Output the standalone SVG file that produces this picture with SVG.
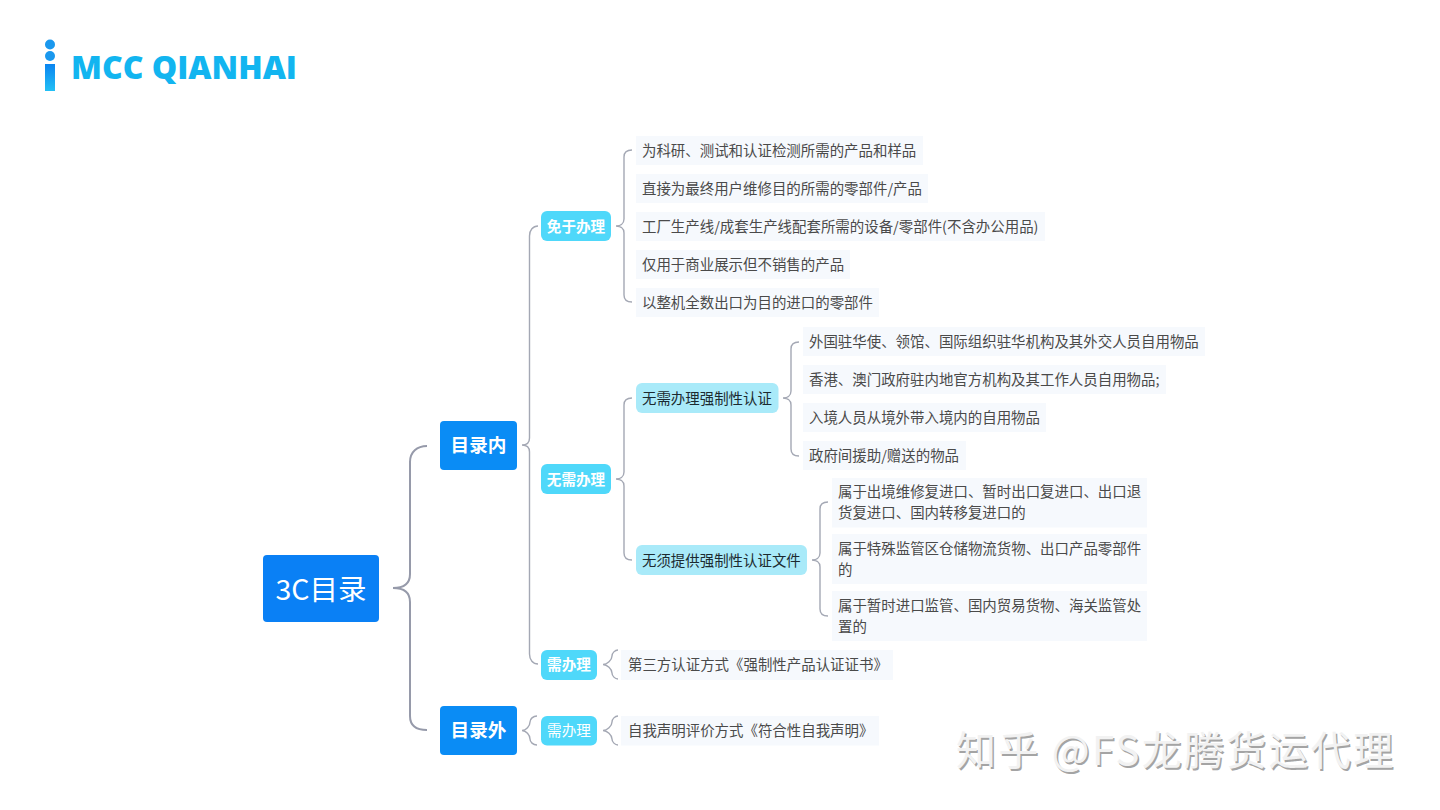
<svg xmlns="http://www.w3.org/2000/svg" width="1440" height="810" viewBox="0 0 1440 810">
<style>
text{font-family:"Noto Sans CJK SC","Noto Sans",sans-serif}
.c{fill:none;stroke:#a4a8b4;stroke-width:1.4}
.c2{fill:none;stroke:#969aaa;stroke-width:2}
.leaf rect{fill:#f6f9fd}
.leaf text{font-size:14.45px;fill:#4a4a4a}
.sub rect{fill:#4fd8fa}
.sub text{font-size:14.6px;font-weight:700;fill:#fff;text-anchor:middle}
.mid rect{fill:#a9eaf9}
.mid text{font-size:14.45px;fill:#1c2a30}
.top rect{fill:#0a8cf5}
.top text{font-size:18.6px;font-weight:700;fill:#fff;text-anchor:middle}
.wm{font-size:40px;letter-spacing:2.300px}
</style>
<defs><linearGradient id="lg" x1="0" y1="0" x2="0" y2="1"><stop offset="0" stop-color="#0a84f0"/><stop offset="1" stop-color="#22c0f5"/></linearGradient></defs>
<g id="logo">
<circle cx="50" cy="44.500" r="5" fill="#1a98ee"/><circle cx="50" cy="56" r="5" fill="#1a98ee"/>
<rect x="45" y="64" width="10" height="27" fill="url(#lg)"/>
<text x="71" y="79" font-size="32" font-weight="800" fill="#12b5f0" style="font-family:'Open Sans','Noto Sans',sans-serif" textLength="226" lengthAdjust="spacingAndGlyphs">MCC QIANHAI</text>
</g>
<g id="connectors">
<path class="c2" d="M393 588C403 588 410 584 410 574V462C410 452 417 446 427 446M393 588C403 588 410 592 410 602V716C410 726 417 730 427 730"/>
<path class="c" d="M522 445C526 445 529.500 443 529.500 438V236C529.500 230 533 226 538 226M522 445C526 445 529.500 447 529.500 452V654C529.500 660 533 664 538 664"/>
<path class="c" d="M616 226C620 226 624 224 624 219V157C624 152 627 150 632 150M616 226C620 226 624 228 624 233V295C624 300 627 302 632 302"/>
<path class="c" d="M616 479C620 479 624 477 624 472V405C624 400 627 398 632 398M616 479C620 479 624 481 624 486V553C624 558 627 560 632 560"/>
<path class="c" d="M783 398C787 398 791 396 791 391V349C791 344 794 342 799 342M783 398C787 398 791 400 791 405V449C791 454 794 456 799 456"/>
<path class="c" d="M812 560C816 560 820 558 820 553V509C820 504 823 502 828 502M812 560C816 560 820 562 820 567V609C820 614 823 616 828 616"/>
<path class="c" d="M603 664.500C607 664.500 612 660 612 656C612 653 615 650 618 650M603 664.500C607 664.500 612 669 612 673C612 676 615 679 618 679"/>
<path class="c" d="M603 730.500C607 730.500 612 726 612 722C612 719 615 716 618 716M603 730.500C607 730.500 612 735 612 739C612 742 615 745 618 745"/>
<path class="c" d="M522 730.500C526 730.500 530 726 530 722C530 719 533 716 537 716M522 730.500C526 730.500 530 735 530 739C530 742 533 745 537 745"/>
</g>
<g id="root"><rect x="263" y="555" width="116" height="67" rx="4" fill="#0a80f5"/><text x="321" y="600" font-size="28.500" fill="#fff" text-anchor="middle">3C目录</text></g>
<g id="n-in" class="top"><rect x="440" y="421" width="77" height="49" rx="4"/><text x="478.500" y="452">目录内</text></g>
<g id="n-out" class="top"><rect x="440" y="706" width="77" height="49" rx="4"/><text x="478.500" y="737">目录外</text></g>
<g id="s1" class="sub"><rect x="541" y="211" width="70" height="30" rx="6"/><text x="576" y="231.500">免于办理</text></g>
<g id="s2" class="sub"><rect x="541" y="464" width="70" height="30" rx="6"/><text x="576" y="484.500">无需办理</text></g>
<g id="s3" class="sub"><rect x="541" y="650" width="56" height="30" rx="6"/><text x="569" y="670">需办理</text></g>
<g id="s4" class="sub"><rect x="541" y="716" width="56" height="29.500" rx="6"/><text x="569" y="736" style="font-weight:400">需办理</text></g>
<g id="m1" class="mid"><rect x="636" y="383" width="142.500" height="30" rx="6"/><text x="642" y="403.500">无需办理强制性认证</text></g>
<g id="m2" class="mid"><rect x="636" y="545" width="171" height="30" rx="6"/><text x="642" y="565.500">无须提供强制性认证文件</text></g>
<g id="l1" class="leaf"><rect x="636" y="136" width="287" height="29"/><text x="642" y="155.500">为科研、测试和认证检测所需的产品和样品</text></g>
<g id="l2" class="leaf"><rect x="636" y="174" width="292" height="29"/><text x="642" y="193.500">直接为最终用户维修目的所需的零部件/产品</text></g>
<g id="l3" class="leaf"><rect x="636" y="212" width="409" height="29"/><text x="642" y="231.500">工厂生产线/成套生产线配套所需的设备/零部件(不含办公用品)</text></g>
<g id="l4" class="leaf"><rect x="636" y="250" width="214" height="29"/><text x="642" y="269.500">仅用于商业展示但不销售的产品</text></g>
<g id="l5" class="leaf"><rect x="636" y="288" width="243" height="29"/><text x="642" y="307.500">以整机全数出口为目的进口的零部件</text></g>
<g id="l6" class="leaf"><rect x="803" y="327" width="402" height="29"/><text x="809" y="347">外国驻华使、领馆、国际组织驻华机构及其外交人员自用物品</text></g>
<g id="l7" class="leaf"><rect x="803" y="365" width="363" height="29"/><text x="809" y="385">香港、澳门政府驻内地官方机构及其工作人员自用物品;</text></g>
<g id="l8" class="leaf"><rect x="803" y="403" width="243" height="29"/><text x="809" y="423">入境人员从境外带入境内的自用物品</text></g>
<g id="l9" class="leaf"><rect x="803" y="441" width="163" height="29"/><text x="809" y="461">政府间援助/赠送的物品</text></g>
<g id="l10" class="leaf"><rect x="832" y="478" width="315" height="49.500"/><text x="838" y="497">属于出境维修复进口、暂时出口复进口、出口退</text><text x="838" y="518">货复进口、国内转移复进口的</text></g>
<g id="l11" class="leaf"><rect x="832" y="534" width="315" height="50"/><text x="838" y="554">属于特殊监管区仓储物流货物、出口产品零部件</text><text x="838" y="575">的</text></g>
<g id="l12" class="leaf"><rect x="832" y="591" width="315" height="50"/><text x="838" y="611">属于暂时进口监管、国内贸易货物、海关监管处</text><text x="838" y="632">置的</text></g>
<g id="l13" class="leaf"><rect x="621" y="650" width="272" height="30"/><text x="628" y="670">第三方认证方式《强制性产品认证证书》</text></g>
<g id="l14" class="leaf"><rect x="621" y="716" width="258" height="29.500"/><text x="628" y="736">自我声明评价方式《符合性自我声明》</text></g>
<g id="watermark">
<text class="wm" x="957.500" y="766.500" fill="#a4a4a4">知乎 @FS龙腾货运代理</text>
<text class="wm" x="956" y="765" fill="#f2f2f2">知乎 @FS龙腾货运代理</text>
</g>
</svg>
